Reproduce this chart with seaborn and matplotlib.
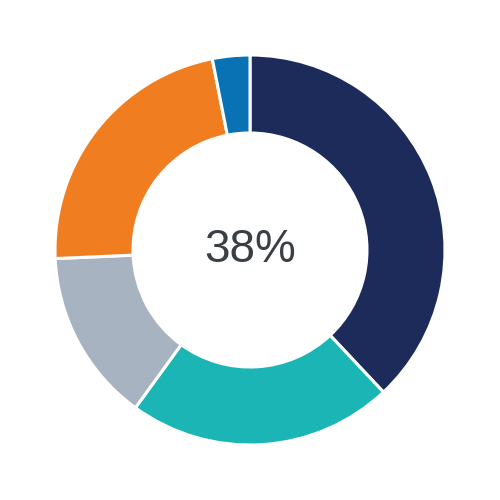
import matplotlib
matplotlib.use("Agg")
import matplotlib.pyplot as plt
import seaborn as sns

# Slice shares, clockwise from the top
labels = ["Navy", "Teal", "Gray", "Orange", "Blue"]
values = [38, 22, 14.3, 22.6, 3.1]
colors = ["#1c2b59", "#1bb5b6", "#a8b3c1", "#f17d21", "#0872b5"]
center_text = "38%"

sns.set_theme(style="white")
plt.rcParams["font.family"] = ["Liberation Sans", "DejaVu Sans"]

fig = plt.figure(figsize=(5, 5), dpi=100)
ax = fig.add_axes([0, 0, 1, 1])
ax.pie(values, colors=colors, startangle=90, counterclock=False,
       radius=1.0,
       wedgeprops=dict(width=0.4, edgecolor="white", linewidth=2.2))
ax.text(0, 0, center_text, ha="center", va="center", fontsize=33,
        color="#3a3f46")
lim = 250 / 195
ax.set_xlim(-lim, lim)
ax.set_ylim(-lim, lim)
ax.set_aspect("equal")
ax.axis("off")
fig.savefig("out.png", dpi=100, facecolor="white")
